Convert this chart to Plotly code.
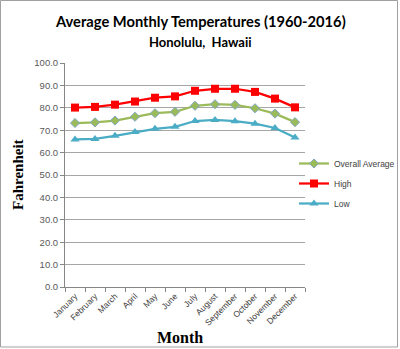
import plotly.graph_objects as go

months = ["January", "February", "March", "April", "May", "June", "July",
          "August", "September", "October", "November", "December"]
overall_avg = [73.2, 73.5, 74.3, 76.0, 77.6, 78.2, 80.9, 81.6, 81.3, 79.8, 77.4, 73.6]
high = [80.1, 80.4, 81.4, 82.8, 84.5, 85.1, 87.6, 88.5, 88.5, 87.1, 84.1, 80.2]
low = [65.9, 66.1, 67.5, 69.2, 70.6, 71.5, 74.1, 74.6, 74.0, 72.9, 71.0, 66.7]

W, H = 400, 349
L, R, T, B = 65, 95, 63, 62
pw, ph = W - L - R, H - T - B

def px(x):
    return (x - L) / pw

def py(y):
    return (H - B - y) / ph

fig = go.Figure()
fig.add_trace(go.Scatter(
    x=months, y=overall_avg, name="Overall Average", mode="lines+markers",
    legendgroup="a",
    line=dict(color="#9BBB59", width=2.25),
    marker=dict(symbol="diamond", size=7, color="#9BBB59",
                line=dict(color="#7fa7c4", width=1))))
fig.add_trace(go.Scatter(
    x=months, y=high, name="High", mode="lines+markers",
    legendgroup="b",
    line=dict(color="#FF0000", width=2.25),
    marker=dict(symbol="square", size=8, color="#FF0000")))
fig.add_trace(go.Scatter(
    x=months, y=low, name="Low", mode="lines+markers",
    legendgroup="c",
    line=dict(color="#4BACC6", width=2.25),
    marker=dict(symbol="triangle-up", size=8, color="#4BACC6")))

fig.update_layout(
    width=W, height=H,
    margin=dict(l=L, r=R, t=T, b=B, autoexpand=False),
    paper_bgcolor="white", plot_bgcolor="white",
    font=dict(family="Liberation Sans, Arial", size=9, color="#595959"),
    showlegend=True,
    legend=dict(x=px(294), y=py(149), xanchor="left", yanchor="top",
                font=dict(size=8.5, color="#404040"), tracegroupgap=1,
                itemwidth=30, bgcolor="rgba(0,0,0,0)"),
    xaxis=dict(
        type="category", range=[-0.5, 11.5], showgrid=False,
        showline=True, linecolor="#868686", linewidth=1,
        ticks="outside", tickson="boundaries", ticklen=4, tickcolor="#868686",
        tickangle=-45, tickfont=dict(size=8.5, color="#404040")),
    yaxis=dict(
        range=[0, 100], dtick=10, tickformat=".1f",
        showgrid=True, gridcolor="#a6a6a6", gridwidth=1,
        showline=True, linecolor="#868686", linewidth=1,
        ticks="outside", ticklen=4, tickcolor="#868686",
        zeroline=False, tickfont=dict(size=9.5, color="#595959")),
    annotations=[
        dict(text="<b>Average Monthly Temperatures (1960-2016)</b>",
             x=px(200), y=py(21), xref="paper", yref="paper",
             xanchor="center", yanchor="middle", showarrow=False,
             font=dict(family="Lato, Carlito, sans-serif", size=14.7, color="#000000")),
        dict(text="<b>Honolulu,  Hawaii</b>",
             x=px(200), y=py(42), xref="paper", yref="paper",
             xanchor="center", yanchor="middle", showarrow=False,
             font=dict(family="Lato, Carlito, sans-serif", size=13, color="#000000")),
        dict(text="<b>Month</b>",
             x=px(180), y=py(337), xref="paper", yref="paper",
             xanchor="center", yanchor="middle", showarrow=False,
             font=dict(family="Liberation Serif, Times New Roman", size=16, color="#000000")),
        dict(text="<b>Fahrenheit</b>", textangle=-90,
             x=px(18), y=py(175), xref="paper", yref="paper",
             xanchor="center", yanchor="middle", showarrow=False,
             font=dict(family="Liberation Serif, Times New Roman", size=15, color="#000000")),
    ],
    shapes=[
        dict(type="rect", xref="paper", yref="paper",
             x0=px(0.5), x1=px(397.5), y0=py(347), y1=py(0.5),
             line=dict(color="#a0a0a0", width=1), fillcolor="rgba(0,0,0,0)"),
    ],
)

fig.write_html("out.html")
